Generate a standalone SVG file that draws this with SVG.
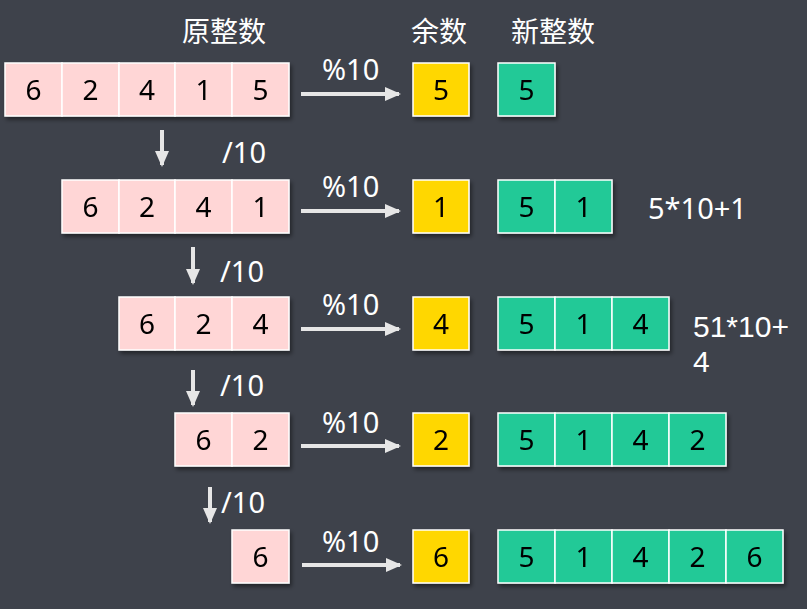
<svg xmlns="http://www.w3.org/2000/svg" width="807" height="609" viewBox="0 0 807 609">
<defs>
<filter id="sh" x="-20%" y="-20%" width="150%" height="160%">
<feDropShadow dx="2" dy="3" stdDeviation="2" flood-color="#000" flood-opacity="0.45"/>
</filter>
<marker id="ah" markerWidth="4" markerHeight="4" refX="3.5" refY="2" orient="auto" markerUnits="strokeWidth">
<path d="M0,0.25 L4,2 L0,3.75 Z" fill="#e6e6e6"/>
</marker>
</defs>
<style>
.pk{fill:#ffd6d6;stroke:#ffffff;stroke-width:1.5}
.yl{fill:#ffd700;stroke:#ffffff;stroke-width:1.5}
.gr{fill:#20c997;stroke:#ffffff;stroke-width:1.5}
.d{font-family:"Noto Sans","Liberation Sans",sans-serif;font-size:28px;fill:#000;text-anchor:middle}
.lb{font-family:"Noto Sans","Liberation Sans",sans-serif;font-size:29px;fill:#ffffff}
.nt{font-family:"Liberation Sans",sans-serif;font-size:30px;fill:#ffffff}
.t{font-family:"Noto Sans CJK SC","Noto Sans",sans-serif;font-size:28px;fill:#ffffff}
.ar{stroke:#e6e6e6;stroke-width:4;fill:none;marker-end:url(#ah)}
</style>
<rect width="807" height="609" fill="#3e424b"/>

<g id="titles">
<text class="t" x="182" y="42">原整数</text>
<text class="t" x="411" y="42">余数</text>
<text class="t" x="511" y="42">新整数</text>
</g>

<g id="orig1" filter="url(#sh)">
<rect class="pk" x="5" y="63" width="57" height="53"/><rect class="pk" x="62" y="63" width="57" height="53"/><rect class="pk" x="119" y="63" width="56" height="53"/><rect class="pk" x="175" y="63" width="57" height="53"/><rect class="pk" x="232" y="63" width="57" height="53"/>
<text class="d" x="33.5" y="100">6</text><text class="d" x="90.5" y="100">2</text><text class="d" x="147" y="100">4</text><text class="d" x="203.5" y="100">1</text><text class="d" x="260.5" y="100">5</text>
</g>
<g id="rem1" filter="url(#sh)"><rect class="yl" x="413" y="63" width="56" height="53"/><text class="d" x="441" y="100">5</text></g>
<g id="new1" filter="url(#sh)"><rect class="gr" x="498" y="63" width="57" height="53"/><text class="d" x="526.5" y="100">5</text></g>

<g id="orig2" filter="url(#sh)">
<rect class="pk" x="62" y="180" width="57" height="53"/><rect class="pk" x="119" y="180" width="56" height="53"/><rect class="pk" x="175" y="180" width="57" height="53"/><rect class="pk" x="232" y="180" width="57" height="53"/>
<text class="d" x="90.5" y="217">6</text><text class="d" x="147" y="217">2</text><text class="d" x="203.5" y="217">4</text><text class="d" x="260.5" y="217">1</text>
</g>
<g id="rem2" filter="url(#sh)"><rect class="yl" x="413" y="180" width="56" height="53"/><text class="d" x="441" y="217">1</text></g>
<g id="new2" filter="url(#sh)"><rect class="gr" x="498" y="180" width="57" height="53"/><rect class="gr" x="555" y="180" width="57" height="53"/><text class="d" x="526.5" y="217">5</text><text class="d" x="583.5" y="217">1</text></g>
<g id="note2"><text class="lb" x="648" y="219">5*10+1</text></g>

<g id="orig3" filter="url(#sh)">
<rect class="pk" x="119" y="297" width="56" height="53"/><rect class="pk" x="175" y="297" width="57" height="53"/><rect class="pk" x="232" y="297" width="57" height="53"/>
<text class="d" x="147" y="334">6</text><text class="d" x="203.5" y="334">2</text><text class="d" x="260.5" y="334">4</text>
</g>
<g id="rem3" filter="url(#sh)"><rect class="yl" x="413" y="297" width="56" height="53"/><text class="d" x="441" y="334">4</text></g>
<g id="new3" filter="url(#sh)"><rect class="gr" x="498" y="297" width="57" height="53"/><rect class="gr" x="555" y="297" width="57" height="53"/><rect class="gr" x="612" y="297" width="57" height="53"/><text class="d" x="526.5" y="334">5</text><text class="d" x="583.5" y="334">1</text><text class="d" x="640.5" y="334">4</text></g>
<g id="note3"><text class="nt" x="693" y="337">51*10+</text><text class="nt" x="693" y="372">4</text></g>

<g id="orig4" filter="url(#sh)">
<rect class="pk" x="175" y="413" width="57" height="53"/><rect class="pk" x="232" y="413" width="57" height="53"/>
<text class="d" x="203.5" y="450">6</text><text class="d" x="260.5" y="450">2</text>
</g>
<g id="rem4" filter="url(#sh)"><rect class="yl" x="413" y="413" width="56" height="53"/><text class="d" x="441" y="450">2</text></g>
<g id="new4" filter="url(#sh)"><rect class="gr" x="498" y="413" width="57" height="53"/><rect class="gr" x="555" y="413" width="57" height="53"/><rect class="gr" x="612" y="413" width="57" height="53"/><rect class="gr" x="669" y="413" width="57" height="53"/><text class="d" x="526.5" y="450">5</text><text class="d" x="583.5" y="450">1</text><text class="d" x="640.5" y="450">4</text><text class="d" x="697.5" y="450">2</text></g>

<g id="orig5" filter="url(#sh)">
<rect class="pk" x="232" y="530" width="57" height="53"/>
<text class="d" x="260.5" y="567">6</text>
</g>
<g id="rem5" filter="url(#sh)"><rect class="yl" x="413" y="530" width="56" height="53"/><text class="d" x="441" y="567">6</text></g>
<g id="new5" filter="url(#sh)"><rect class="gr" x="498" y="530" width="57" height="53"/><rect class="gr" x="555" y="530" width="57" height="53"/><rect class="gr" x="612" y="530" width="57" height="53"/><rect class="gr" x="669" y="530" width="57" height="53"/><rect class="gr" x="726" y="530" width="57" height="53"/><text class="d" x="526.5" y="567">5</text><text class="d" x="583.5" y="567">1</text><text class="d" x="640.5" y="567">4</text><text class="d" x="697.5" y="567">2</text><text class="d" x="754.5" y="567">6</text></g>

<g id="connectors">
<line class="ar" x1="301" y1="94" x2="399" y2="94"/>
<line class="ar" x1="301" y1="211" x2="399" y2="211"/>
<line class="ar" x1="301" y1="329" x2="399" y2="329"/>
<line class="ar" x1="301" y1="446" x2="399" y2="446"/>
<line class="ar" x1="302" y1="565" x2="400" y2="565"/>
<line class="ar" x1="162" y1="130" x2="162" y2="165"/>
<line class="ar" x1="193" y1="247" x2="193" y2="283"/>
<line class="ar" x1="193" y1="370" x2="193" y2="405"/>
<line class="ar" x1="210" y1="487" x2="210" y2="522"/>
<text class="lb" x="322" y="80">%10</text>
<text class="lb" x="322" y="197">%10</text>
<text class="lb" x="322" y="315">%10</text>
<text class="lb" x="322" y="433">%10</text>
<text class="lb" x="322" y="552">%10</text>
<text class="lb" x="222" y="163">/10</text>
<text class="lb" x="220" y="282">/10</text>
<text class="lb" x="220" y="396">/10</text>
<text class="lb" x="221" y="513">/10</text>
</g>
</svg>
